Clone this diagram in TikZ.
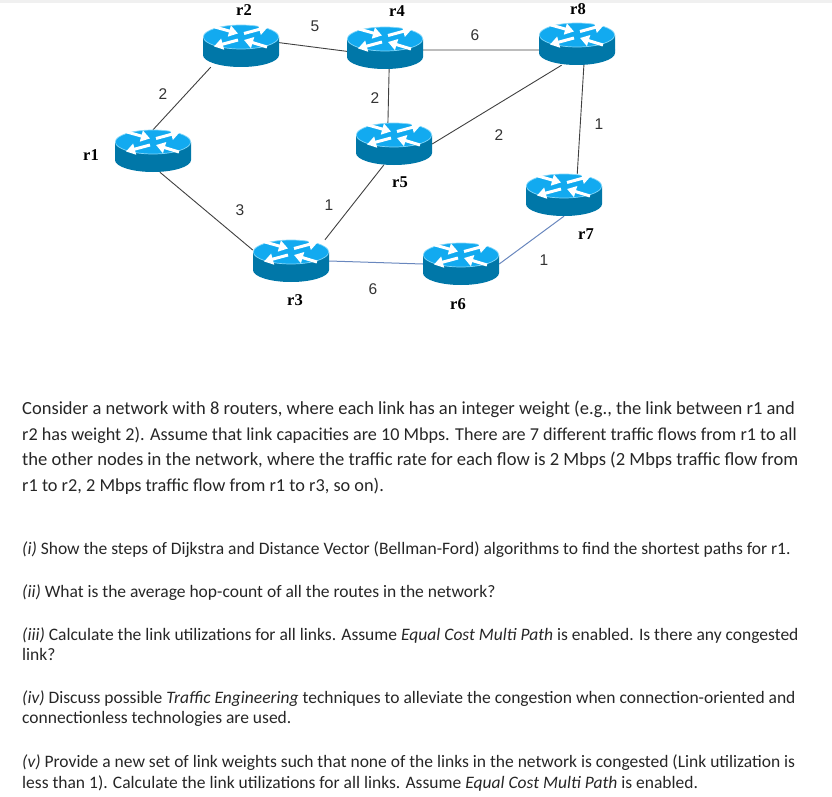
\documentclass[tikz,border=0pt]{standalone}
\usepackage{fontspec}
\setmainfont{Carlito}
\newfontfamily\labelfont{Liberation Serif}
\newfontfamily\weightfont{Liberation Sans}
\usetikzlibrary{arrows.meta}
\definecolor{routertop}{RGB}{18,170,240}
\definecolor{routerrim}{RGB}{130,215,250}
\definecolor{routerside}{RGB}{0,119,168}
\definecolor{linkblue}{RGB}{105,135,190}
\definecolor{bodyink}{RGB}{38,38,38}
\tikzset{
  routerbox/.style={minimum width=76pt,minimum height=42pt,inner sep=0pt},
  routerlabel/.style={font=\labelfont\bfseries\fontsize{16.5}{16.5}\selectfont,inner sep=0pt},
  weight/.style={font=\weightfont\fontsize{15.5}{15.5}\selectfont,text=black!80,inner sep=0pt},
  link/.style={black!75,line width=0.9pt},
  bluelink/.style={linkblue,line width=1pt},
  bodyline/.style={anchor=base west,inner sep=0pt,text=bodyink,font=\fontsize{#1}{20}\selectfont},
  routerarrow/.style={white,line width=3pt,-{Triangle[length=9pt,width=11pt]}},
  router/.pic={
    \fill[routerside] (-38,-9) -- (-38,9) arc[start angle=180,end angle=360,x radius=38,y radius=-12] -- (38,-9) -- cycle;
    \filldraw[fill=routertop,draw=routerrim,line width=0.7pt] (0,-9) ellipse[x radius=37.6,y radius=12];
    % Four arrows on the lid
    \draw[routerarrow] (-26,-19) -- (-3,-12.5);
    \draw[routerarrow] (3,-12.5) -- (27,-19);
    \draw[routerarrow] (-3,-6) -- (-27,0.5);
    \draw[routerarrow] (26,1) -- (3,-6);
  }
}

\begin{document}
\begin{tikzpicture}[x=1pt,y=-1pt]
  \useasboundingbox (0,0) rectangle (832,797);
  \fill[black!6] (0,0) rectangle (832,3);
  % Routers, empty boxes first so that links can use their names
  \foreach \n/\x/\y in {r1/153/151,r2/241/46,r3/291/261,r4/385/48,r5/394/144,r6/461/264,r7/564/195,r8/577/44}
    \node[routerbox] (\n) at (\x,\y) {};
  % Links
  \draw[link] (r1.north) -- (r2.215);
  \draw[link] (r2.5) -- (r4.185);
  \draw[link] (r4.-3) -- (r8.-9);
  \draw[link] (r4.-79) -- (r5.106);
  \draw[link] (r5.east) -- (r8.234);
  \draw[link] (r8.-72) -- (r7.58);
  \draw[link] (r1.-72) -- (r3.164);
  \draw[link] (r3.32) -- (r5.244);
  \draw[bluelink] (r3.east) -- (r6.west);
  \draw[bluelink] (r6.east) -- (r7.south);
  \foreach \n in {r1,r2,r3,r4,r5,r6,r7,r8}
    \path (\n) pic {router};
  % Router labels
  \node[routerlabel] (l1) at (91,155) {r1};
  \node[routerlabel] (l2) at (244,10) {r2};
  \node[routerlabel] (l3) at (295,300) {r3};
  \node[routerlabel] (l4) at (397,11) {r4};
  \node[routerlabel] (l5) at (400,182) {r5};
  \node[routerlabel] (l6) at (458,304) {r6};
  \node[routerlabel] (l7) at (586,234) {r7};
  \node[routerlabel] (l8) at (578,9) {r8};
  % Link weights
  \node[weight] (w12) at (163,94) {2};
  \node[weight] (w24) at (315,26) {5};
  \node[weight] (w48) at (475,35) {6};
  \node[weight] (w45) at (375,98) {2};
  \node[weight] (w58) at (499,135) {2};
  \node[weight] (w87) at (599,124) {1};
  \node[weight] (w13) at (240,210) {3};
  \node[weight] (w35) at (329,205) {1};
  \node[weight] (w36) at (373,289) {6};
  \node[weight] (w67) at (544,260) {1};
  % Question text
  \node[bodyline=18.5] (p1) at (22,414) {Consider a network with 8 routers, where each link has an integer weight (e.g., the link between r1 and};
  \node[bodyline=18.15] (p2) at (22,440) {r2 has weight 2). Assume that link capacities are 10 Mbps. There are 7 different traffic flows from r1 to all};
  \node[bodyline=18.6] (p3) at (22,465) {the other nodes in the network, where the traffic rate for each flow is 2 Mbps (2 Mbps traffic flow from};
  \node[bodyline=18.3] (p4) at (22,491) {r1 to r2, 2 Mbps traffic flow from r1 to r3, so on).};
  \node[bodyline=17.5] (q1) at (22,554) {\textit{(i)} Show the steps of Dijkstra and Distance Vector (Bellman-Ford) algorithms to find the shortest paths for r1.};
  \node[bodyline=17.5] (q2) at (22,597) {\textit{(ii)} What is the average hop-count of all the routes in the network?};
  \node[bodyline=17.5] (q3a) at (22,640) {\textit{(iii)} Calculate the link utilizations for all links. Assume \textit{Equal Cost Multi Path} is enabled. Is there any congested};
  \node[bodyline=17.5] (q3b) at (22,660) {link?};
  \node[bodyline=17.5] (q4a) at (22,703) {\textit{(iv)} Discuss possible \textit{Traffic Engineering} techniques to alleviate the congestion when connection-oriented and};
  \node[bodyline=17.5] (q4b) at (22,723) {connectionless technologies are used.};
  \node[bodyline=17.5] (q5a) at (22,767) {\textit{(v)} Provide a new set of link weights such that none of the links in the network is congested (Link utilization is};
  \node[bodyline=17.5] (q5b) at (22,788) {less than 1). Calculate the link utilizations for all links. Assume \textit{Equal Cost Multi Path} is enabled.};
\end{tikzpicture}
\end{document}
